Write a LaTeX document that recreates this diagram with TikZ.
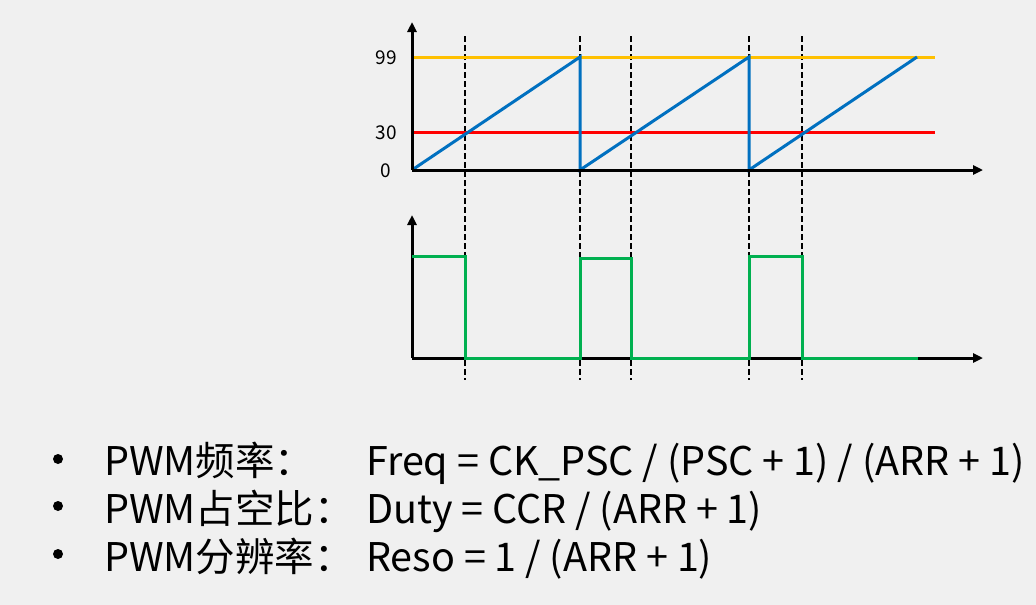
\documentclass[tikz,border=0pt]{standalone}
\usepackage{fontspec}
\setmainfont{Noto Sans CJK SC}
\usetikzlibrary{arrows.meta}
\definecolor{bg}{HTML}{F0F0F0}
\definecolor{cyel}{HTML}{FFC000}
\definecolor{cred}{HTML}{FF0000}
\definecolor{cblue}{HTML}{0070C0}
\definecolor{cgreen}{HTML}{00B050}
\tikzset{
  axis/.style={line width=3pt,-{Triangle[width=9pt,length=10pt]}},
  guide/.style={line width=2pt,dash pattern=on 6pt off 3pt},
  wave/.style={line width=3pt,line join=miter},
  lvl/.style={font=\fontsize{19}{22}\selectfont,anchor=east,inner sep=0pt},
  bul/.style={font=\fontsize{39.5}{44}\selectfont,anchor=base west,inner sep=0pt},
  dot/.style={circle,fill=black,inner sep=0pt,minimum size=10pt},
}
\begin{document}
\begin{tikzpicture}[x=1pt,y=-1pt]
\fill[bg] (0,0) rectangle (1036,605);
\useasboundingbox (0,0) rectangle (1036,605);
% dashed guides
\foreach \x in {465,580,631,749,802} \draw[guide] (\x,36) -- (\x,380);
% top plot
\draw[cyel,line width=3pt] (412,57) -- (935,57);
\draw[cred,line width=3pt] (412,132) -- (935,132);
\draw[cblue,wave] (412,170) -- (580,57) -- (580,170) -- (749,57) -- (749,170) -- (917,57);
\draw[axis] (412,170) -- (412,22);
\draw[axis] (412,170) -- (983,170);
\node[lvl] (l99) at (397,58) {99};
\node[lvl] (l30) at (397,133) {30};
\node[lvl] (l0) at (391,171) {0};
% bottom plot
\draw[axis] (412,358) -- (412,215);
\draw[axis] (412,358) -- (983,358);
\draw[cgreen,wave] (412,256) -- (465,256) -- (465,358) -- (580,358) -- (580,258) -- (631,258) -- (631,358) -- (749,358) -- (749,256) -- (802,256) -- (802,358) -- (918,358);
% text
\node[dot] (b1) at (58,459) {};
\node[dot] (b2) at (58,506) {};
\node[dot] (b3) at (58,554) {};
\node[bul] (t1) at (104,475) {PWM频率：};
\node[bul] (t2) at (104,523) {PWM占空比：};
\node[bul] (t3) at (104,571) {PWM分辨率：};
\node[bul] (f1) at (366,475) {Freq = CK\_PSC / (PSC + 1) / (ARR + 1)};
\node[bul] (f2) at (366,523) {Duty = CCR / (ARR + 1)};
\node[bul] (f3) at (366,571) {Reso = 1 / (ARR + 1)};
\end{tikzpicture}
\end{document}
